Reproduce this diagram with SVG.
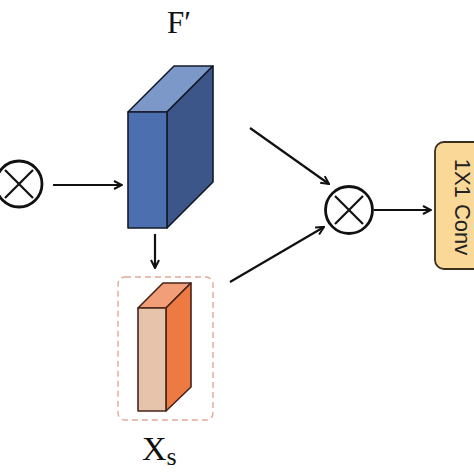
<svg xmlns="http://www.w3.org/2000/svg" width="474" height="474" viewBox="0 0 474 474">
<defs>
<marker id="arr" viewBox="0 0 10 10" refX="9" refY="5" markerWidth="10" markerHeight="10" markerUnits="userSpaceOnUse" orient="auto">
<path d="M1,1 L9,5 L1,9" fill="none" stroke="#111" stroke-width="2"/>
</marker>
<style>
.ln{stroke:#111;stroke-width:2.2;fill:none}
.circ{stroke:#111;stroke-width:2.8;fill:#fff}
.serif{font-family:"Liberation Serif","Times New Roman",serif;fill:#111}
.blue{stroke:#141a2a;stroke-width:1.6;stroke-linejoin:round}
.org{stroke:#4a2418;stroke-width:1.6;stroke-linejoin:round}
</style>
</defs>
<rect width="474" height="474" fill="#fff"/>

<g id="mul-left">
<circle class="circ" cx="19" cy="184" r="23"/>
<path class="ln" d="M5,170 L33,198 M33,170 L5,198" stroke-width="2.4"/>
</g>

<g id="label-F">
<text class="serif" x="179" y="33" font-size="31" text-anchor="middle">F′</text>
</g>

<g id="cube-F">
<polygon class="blue" points="128,112 174,66 213,66 167,112" fill="#7B98C9"/>
<polygon class="blue" points="167,112 213,66 213,182 167,228" fill="#3D5689"/>
<rect class="blue" x="128" y="112" width="39" height="116" fill="#4C70AF"/>
</g>

<g id="xs-box">
<rect x="118" y="277" width="95" height="143" rx="7" fill="none" stroke="#E3A898" stroke-width="1.4" stroke-dasharray="6,4"/>
<polygon class="org" points="138,308 163,283 191,283 166,308" fill="#F29E78"/>
<polygon class="org" points="166,308 191,283 191,387 166,411" fill="#EE7A43"/>
<rect class="org" x="138" y="308" width="28" height="103" fill="#E6C4AC"/>
</g>

<g id="label-Xs">
<text class="serif" x="142" y="460" font-size="34">X<tspan font-size="26" dy="5">s</tspan></text>
</g>

<g id="mul-right">
<circle class="circ" cx="349" cy="210" r="23.5"/>
<path class="ln" d="M335,196 L363,224 M363,196 L335,224" stroke-width="2.4"/>
</g>

<g id="conv">
<rect x="435" y="142" width="60" height="127" rx="9" fill="#F9D898" stroke="#3a3020" stroke-width="1.8"/>
<text x="0" y="0" transform="translate(455,207) rotate(90)" font-family="'Liberation Sans',Arial,sans-serif" font-size="22" fill="#222" text-anchor="middle">1X1 Conv</text>
</g>

<g id="connectors">
<line class="ln" x1="53" y1="185" x2="122" y2="185" marker-end="url(#arr)"/>
<line class="ln" x1="155" y1="234" x2="155" y2="268" marker-end="url(#arr)"/>
<line class="ln" x1="250" y1="128" x2="329" y2="184" marker-end="url(#arr)"/>
<line class="ln" x1="230" y1="282" x2="324" y2="227" marker-end="url(#arr)"/>
<line class="ln" x1="374" y1="210" x2="431" y2="210" marker-end="url(#arr)"/>
</g>
</svg>
